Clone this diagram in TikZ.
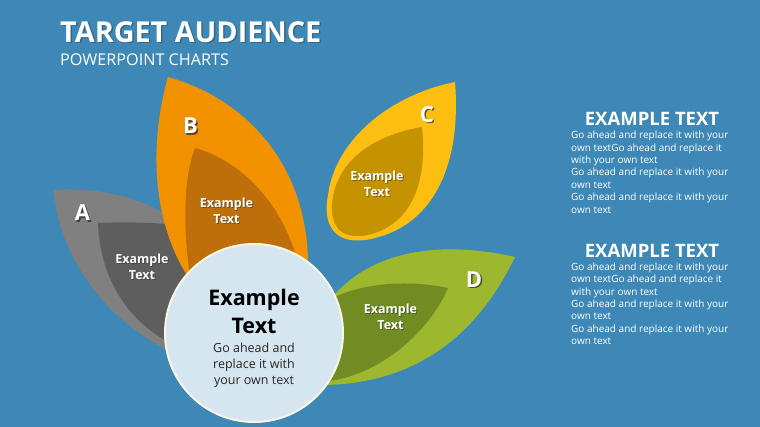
\documentclass[tikz,border=0pt]{standalone}
\usepackage{fontspec}
\setmainfont{Open Sans}
\newcommand\myfs[2]{\fontsize{#1}{#2}\selectfont}
\definecolor{bg}{RGB}{61,136,182}
\definecolor{grayout}{RGB}{128,128,128}
\definecolor{grayin}{RGB}{94,94,94}
\definecolor{orgout}{RGB}{243,146,0}
\definecolor{orgin}{RGB}{190,111,12}
\definecolor{yelout}{RGB}{253,190,18}
\definecolor{yelin}{RGB}{197,146,2}
\definecolor{grnout}{RGB}{157,183,46}
\definecolor{grnin}{RGB}{113,140,34}
\definecolor{circfill}{RGB}{214,230,240}
\definecolor{circline}{RGB}{250,246,228}
\definecolor{shad}{RGB}{40,40,40}
\begin{document}
\begin{tikzpicture}[x=1pt,y=-1pt,
  petlabel/.style={text=white, font=\bfseries\myfs{12.5}{16}, inner sep=0, anchor=base},
  petshadow/.style={petlabel, text=shad, opacity=0.45},
  letter/.style={text=white, font=\bfseries\myfs{22}{24}, inner sep=0},
  lettershadow/.style={letter, text=shad, opacity=0.7},
  headtxt/.style={text=white, font=\bfseries\myfs{18.5}{20}, inner sep=0},
  bodytxt/.style={text=white, font=\myfs{10}{12.4}, inner sep=0, align=left, anchor=north west},
  circbig/.style={text=black, font=\bfseries\myfs{21.5}{24}, inner sep=0, anchor=base},
  circsmall/.style={text=black!85, font=\myfs{12.5}{16}, inner sep=0, anchor=base}
]
\useasboundingbox (0,0) rectangle (760,427);
\fill[bg] (0,0) rectangle (760,427);

% title
\node[anchor=base west, inner sep=0, text=shad, opacity=0.35, font=\bfseries\myfs{28.8}{30}] (titsh) at (61.5,44) {TARGET AUDIENCE};
\node[anchor=base west, inner sep=0, text=white, font=\bfseries\myfs{28.8}{30}] (tit) at (60,42.5) {TARGET AUDIENCE};
\node[anchor=base west, inner sep=0, text=white, font=\myfs{16.2}{18}] (sub) at (60,66) {POWERPOINT CHARTS};

% petal A
\fill[grayout] (53,190) .. controls (130,185) and (200,215) .. (240,300) -- (240,340) -- (190,360) .. controls (110,330) and (60,260) .. (53,190) -- cycle;
\fill[grayin] (98,223) .. controls (140,221) and (190,224) .. (210,232) -- (240,330) -- (190,352) .. controls (130,330) and (100,280) .. (98,223) -- cycle;

% petal B
\fill[orgout] (168,77) .. controls (250,100) and (310,170) .. (308,270) -- (250,320) -- (190,280) .. controls (150,220) and (150,140) .. (168,77) -- cycle;
\fill[orgin] (195,148) .. controls (240,160) and (285,205) .. (298,265) -- (250,310) -- (190,275) .. controls (183,230) and (183,180) .. (195,148) -- cycle;

% petal C
\fill[yelout] (455,82) .. controls (462,170) and (430,230) .. (365,240) .. controls (335,244) and (322,225) .. (328,195) .. controls (335,140) and (390,95) .. (455,82) -- cycle;
\fill[yelin] (422,127) .. controls (428,185) and (410,225) .. (368,235) .. controls (342,240) and (331,228) .. (332,205) .. controls (335,160) and (375,135) .. (422,127) -- cycle;

% petal D
\fill[grnout] (515,257) .. controls (440,240) and (370,250) .. (330,300) -- (300,340) -- (320,385) .. controls (420,385) and (480,330) .. (515,257) -- cycle;
\fill[grnin] (448,288) .. controls (400,278) and (350,285) .. (320,305) -- (300,350) -- (320,382) .. controls (380,378) and (430,330) .. (448,288) -- cycle;

% centre circle
\node[circle, draw=circline, line width=2pt, fill=circfill, minimum size=178pt, inner sep=0] (hub) at (254,333) {};
\node[circbig] (hub1) at (254,306) {Example};
\node[circbig] (hub2) at (254,334) {Text};
\node[circsmall] (hub3) at (254,352.5) {Go ahead and};
\node[circsmall] (hub4) at (254,368.5) {replace it with};
\node[circsmall] (hub5) at (254,384.5) {your own text};

% petal labels
\node[petshadow] (las1) at (143,265) {Example};
\node[petshadow] (las2) at (143,281) {Text};
\node[petlabel] (la1) at (142,264) {Example};
\node[petlabel] (la2) at (142,280) {Text};
\node[petshadow] (lbs1) at (227.5,208.7) {Example};
\node[petshadow] (lbs2) at (227.5,225) {Text};
\node[petlabel] (lb1) at (226.5,207.7) {Example};
\node[petlabel] (lb2) at (226.5,224) {Text};
\node[petshadow] (lcs1) at (378,182) {Example};
\node[petshadow] (lcs2) at (378,197.7) {Text};
\node[petlabel] (lc1) at (377,181) {Example};
\node[petlabel] (lc2) at (377,196.7) {Text};
\node[petshadow] (lds1) at (391.5,315) {Example};
\node[petshadow] (lds2) at (391.5,331) {Text};
\node[petlabel] (ld1) at (390.5,314) {Example};
\node[petlabel] (ld2) at (390.5,330) {Text};

% letters
\node[lettershadow] (As) at (84,214.5) {A};
\node[letter] (A) at (82.5,213) {A};
\node[lettershadow] (Bs) at (192,127.5) {B};
\node[letter] (B) at (190.5,126) {B};
\node[lettershadow] (Cs) at (428.5,116) {C};
\node[letter] (C) at (427,114.5) {C};
\node[lettershadow] (Ds) at (475.5,281) {D};
\node[letter] (D) at (474,279.5) {D};

% right text
\node[headtxt] (h1) at (652,119) {EXAMPLE TEXT};
\node[bodytxt] (t1) at (571,131) {Go ahead and replace it with your\\own textGo ahead and replace it\\with your own text\\Go ahead and replace it with your\\own text\\Go ahead and replace it with your\\own text};
\node[headtxt] (h2) at (652,250.5) {EXAMPLE TEXT};
\node[bodytxt] (t2) at (571,262.5) {Go ahead and replace it with your\\own textGo ahead and replace it\\with your own text\\Go ahead and replace it with your\\own text\\Go ahead and replace it with your\\own text};
\end{tikzpicture}
\end{document}
